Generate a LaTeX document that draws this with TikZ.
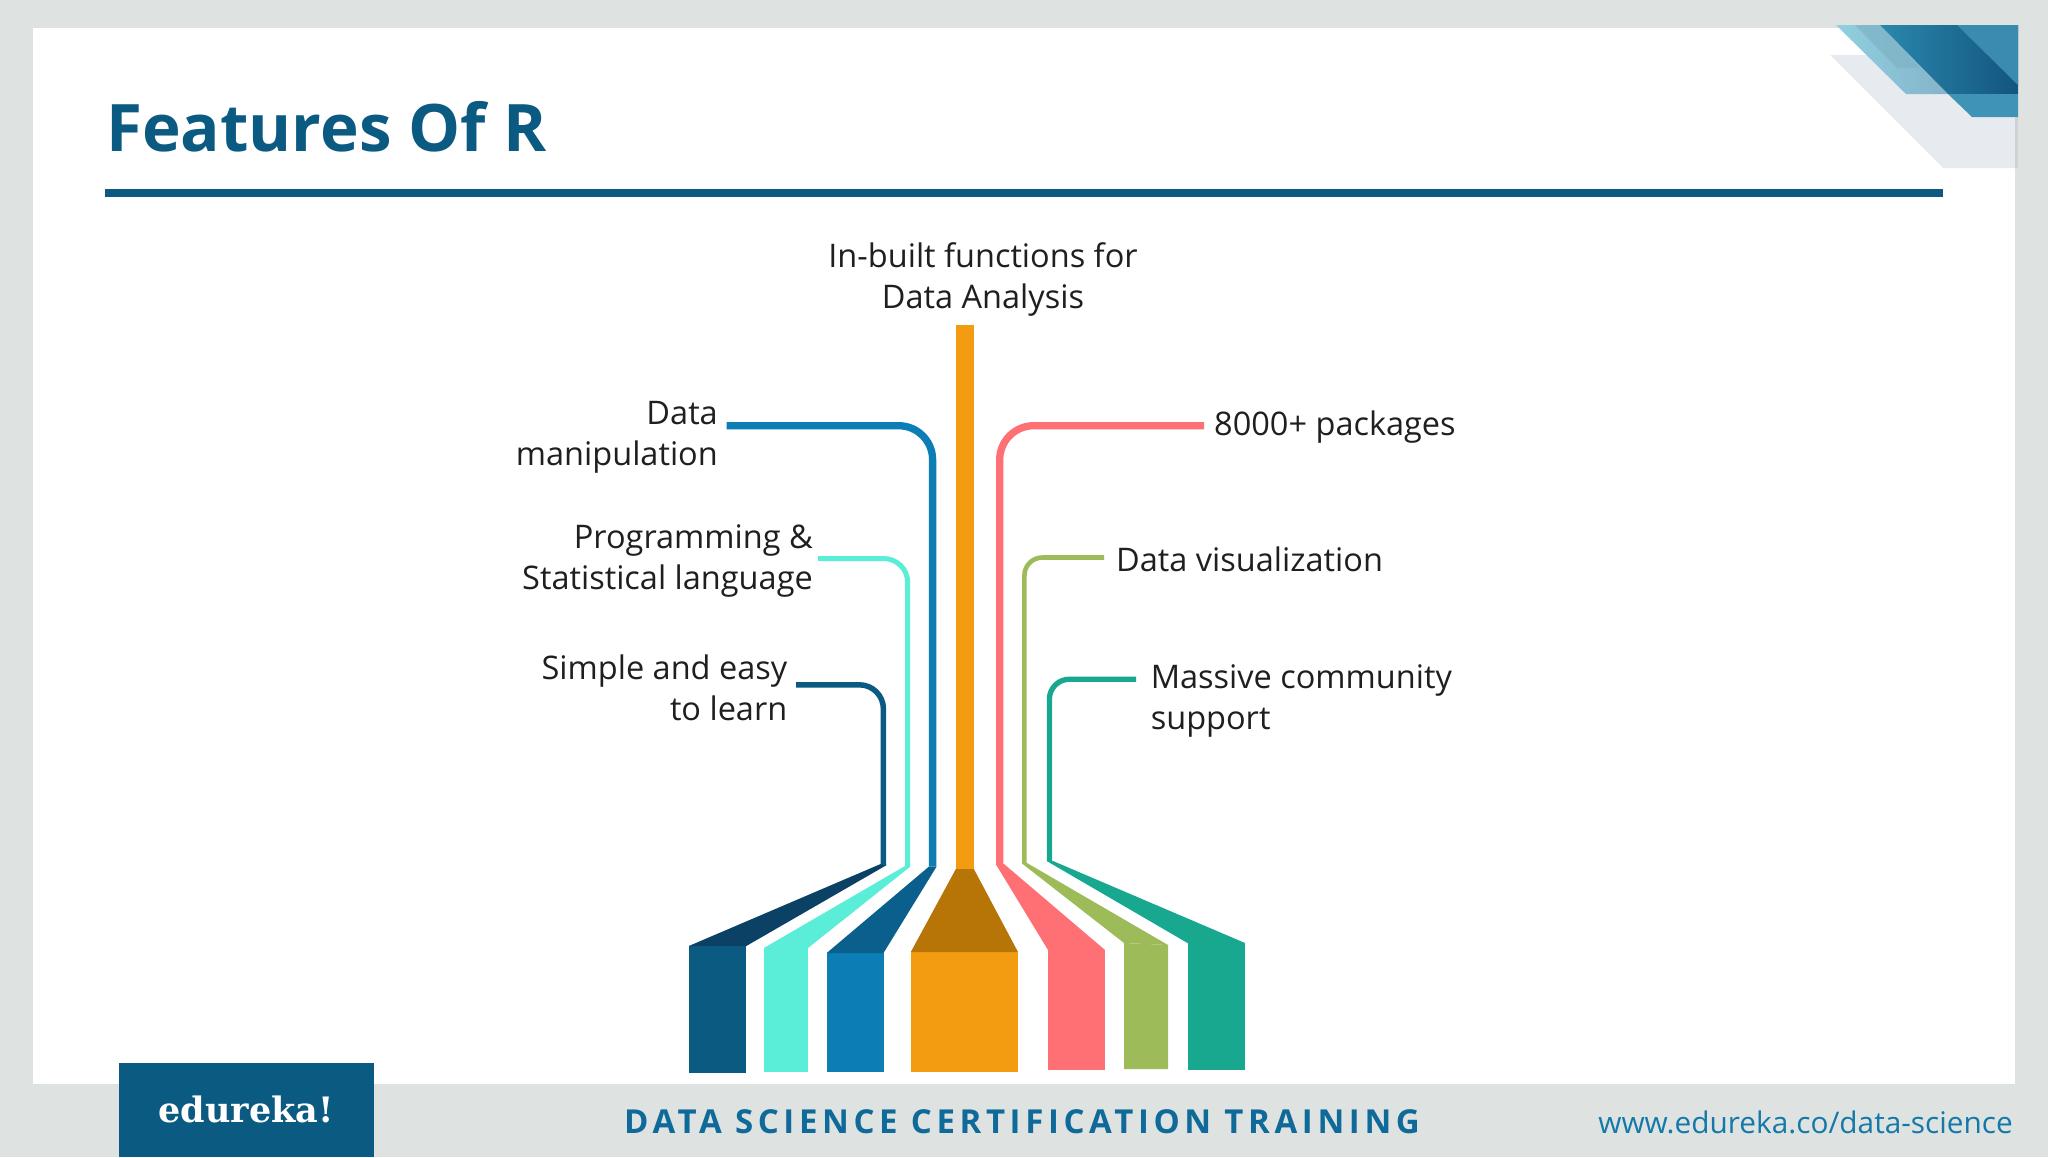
\documentclass[tikz,border=0pt]{standalone}
\usepackage{fontspec}
\setmainfont{Open Sans}
\newfontfamily\logofont{DejaVu Serif}[BoldFont={DejaVu Serif Bold}]
\newfontfamily\footfont{Open Sans}[LetterSpace=14]
\definecolor{pagebg}{HTML}{DEE3E2}
\definecolor{brand}{HTML}{0B5A82}
\definecolor{foot}{HTML}{0F6A99}
\definecolor{urlc}{HTML}{1478A8}
\definecolor{cdark}{HTML}{0A5A82}
\definecolor{cdarktop}{HTML}{0A4165}
\definecolor{cturq}{HTML}{5AEDD7}
\definecolor{cblue}{HTML}{0C7DB5}
\definecolor{cbluetop}{HTML}{0B5F8C}
\definecolor{corange}{HTML}{F39C12}
\definecolor{corangetop}{HTML}{B77508}
\definecolor{cpink}{HTML}{FF7074}
\definecolor{cgreen}{HTML}{9DBB59}
\definecolor{cteal}{HTML}{17A88F}
\definecolor{decoGrey}{HTML}{E7EAEE}
\definecolor{decoEdge}{HTML}{CFD3D6}
\definecolor{decoLightA}{HTML}{8FD0DF}
\definecolor{decoLightB}{HTML}{86B3CA}
\definecolor{decoMid}{HTML}{7FB3C6}
\definecolor{decoDarkA}{HTML}{2A88AD}
\definecolor{decoDarkB}{HTML}{13557F}
\definecolor{decoCorner}{HTML}{3A8BAE}
\definecolor{decoBase}{HTML}{3F93B5}
\tikzset{
  x=1pt,y=-1pt,
  lbl/.style={inner sep=0pt,text=black!88,font=\fontsize{32.5}{41}\selectfont},
  conn/.style={line cap=butt,line join=round,rounded corners=#1},
  conn/.default=30pt,
}
\begin{document}
\begin{tikzpicture}
\useasboundingbox (0,0) rectangle (2048,1157);
\fill[pagebg] (0,0) rectangle (2048,1157);
\fill[white] (33,28) rectangle (2015,1084);

% corner decoration
\fill[decoGrey] (1830,55) -- (2015,55) -- (2015,168) -- (1943,168) -- cycle;
\fill[decoEdge] (2015,117) rectangle (2018,168);
\shade[left color=decoLightA,right color=decoLightB]
   (1836,25) -- (1880,25) -- (1948,94) -- (1906,94) -- cycle;
\fill[decoMid,opacity=.7] (1855,25) -- (1880,25) -- (1920,68) -- (1897,68) -- cycle;
\shade[left color=decoDarkA,right color=decoDarkB]
   (1880,25) -- (2018,25) -- (2018,94) -- (1948,94) -- cycle;
\fill[decoCorner] (1957,25) -- (2018,25) -- (2018,85) -- cycle;
\fill[decoBase] (1948,94) -- (2018,94) -- (2018,117) -- (1972,117) -- cycle;

% header
\node[inner sep=0pt,anchor=base west,text=brand,font=\fontsize{65.5}{80}\selectfont\bfseries] (title) at (106,151) {Features Of R};
\fill[brand] (104.5,189) rectangle (1943,197);

% bar fronts
\fill[cdark]   (688.8,946) rectangle (746.3,1073);
\fill[cturq]   (763.9,948) rectangle (808,1072);
\fill[cblue]   (826.7,953) rectangle (883.5,1072);
\fill[corange] (910.8,952) rectangle (1018,1072);
\fill[cpink]   (1048,950) rectangle (1105,1070);
\fill[cgreen]  (1124,943) -- (1168,945) -- (1168,1069) -- (1124,1069) -- cycle;
\fill[cteal]   (1187.5,943) rectangle (1245,1070);
% bar tops
\fill[cdarktop]   (688.8,946) -- (880.6,864) -- (886.7,865) -- (746.3,946) -- cycle;
\fill[cturq]      (763.9,948) -- (905,866) -- (911,866) -- (808,948) -- cycle;
\fill[cbluetop]   (826.7,953) -- (928.8,866.7) -- (936.5,866.7) -- (883.5,953) -- cycle;
\fill[corangetop] (910.8,952) -- (956,868.7) -- (973.7,868.7) -- (1018,952) -- cycle;
\fill[cpink]      (1048,950) -- (995.7,864) -- (1004,864) -- (1105,950) -- cycle;
\fill[cgreen]     (1124,943) -- (1021.4,863) -- (1027,863) -- (1168,945) -- cycle;
\fill[cteal]      (1187.5,943) -- (1046.7,861) -- (1053,861) -- (1245,943) -- cycle;

% labels
\node[lbl,align=center] (nTop) at (983,279) {In-built functions for\\Data Analysis};
\node[lbl,align=right,anchor=east] (nData) at (718,437) {Data\\manipulation};
\node[lbl,align=right,anchor=east] (nProg) at (813,561) {Programming \&\\Statistical language};
\node[lbl,align=right,anchor=east] (nSimple) at (787.5,688) {Simple and easy\\to learn};
\node[lbl,anchor=west] (nPack) at (1214,427) {8000+ packages};
\node[lbl,anchor=west] (nVis) at (1116,559) {Data visualization};
\node[lbl,align=left,anchor=west] (nComm) at (1150.6,701) {Massive community\\support};

% connector ends
\coordinate (aData) at (726.7,425.7);   \coordinate (bData) at (932.6,866.7);
\coordinate (aProg) at (818,558.5);     \coordinate (bProg) at (907.7,866);
\coordinate (aSimple) at (796,684.8);   \coordinate (bSimple) at (883.4,865);
\coordinate (aPack) at (1204,425.7);    \coordinate (bPack) at (999.7,864);
\coordinate (aVis) at (1104,557.5);     \coordinate (bVis) at (1024.4,863);
\coordinate (aComm) at (1136,679.2);    \coordinate (bComm) at (1049.4,861);
\coordinate (aTop) at (964.8,325);      \coordinate (bTop) at (964.8,869);

\draw[conn=34pt,cblue,line width=7.3pt]  (aData) -- (aData -| bData) -- (bData);
\draw[conn=24pt,cturq,line width=5pt]    (aProg) -- (aProg -| bProg) -- (bProg);
\draw[conn=24pt,cdark,line width=5.5pt]  (aSimple) -- (aSimple -| bSimple) -- (bSimple);
\draw[conn=34pt,cpink,line width=7.3pt]  (aPack) -- (aPack -| bPack) -- (bPack);
\draw[conn=18pt,cgreen,line width=4.6pt] (aVis) -- (aVis -| bVis) -- (bVis);
\draw[conn=20pt,cteal,line width=5.3pt]  (aComm) -- (aComm -| bComm) -- (bComm);
\draw[corange,line width=17.6pt] (aTop) -- (bTop);

% footer
\fill[brand] (118.7,1063) rectangle (374,1157);
\node[inner sep=0pt,anchor=base,text=white,font=\logofont\bfseries\fontsize{35}{40}\selectfont] (logo) at (246.3,1122.7) {edureka!};
\node[inner sep=0pt,anchor=base west,text=foot,font=\footfont\bfseries\fontsize{33}{40}\selectfont] (ftitle) at (624,1133) {DATA SCIENCE CERTIFICATION TRAINING};
\node[inner sep=0pt,anchor=base east,text=urlc,font=\fontsize{29.8}{36}\selectfont] (url) at (2013,1133) {www.edureka.co/data-science};
\end{tikzpicture}
\end{document}
